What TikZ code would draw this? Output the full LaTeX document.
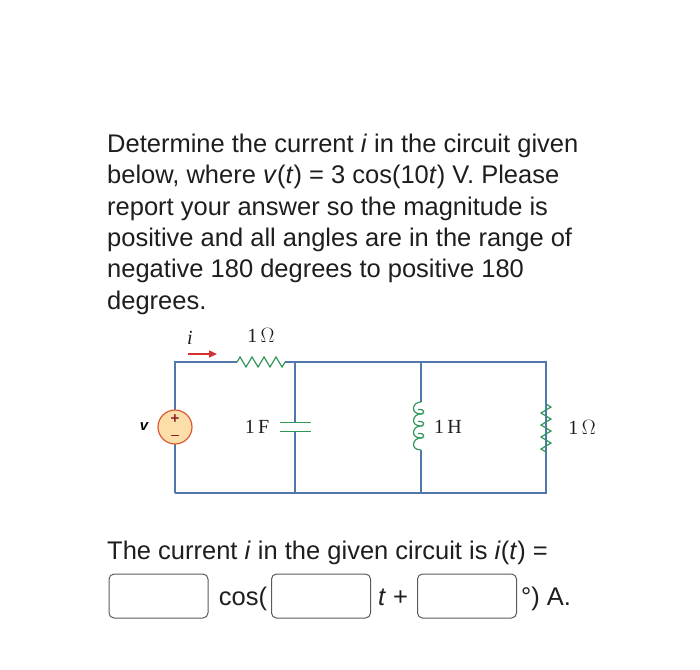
\documentclass[tikz,border=0pt]{standalone}
\usepackage{fontspec}
\setmainfont{Liberation Sans}
\newfontfamily\serif{Liberation Serif}
\usetikzlibrary{decorations.pathmorphing,arrows.meta}
\definecolor{wire}{RGB}{80,120,170}
\definecolor{comp}{RGB}{50,150,90}
\definecolor{arr}{RGB}{210,50,50}
\definecolor{srcfill}{RGB}{252,222,170}
\definecolor{srcedge}{RGB}{220,90,50}
\definecolor{txt}{RGB}{30,30,30}
\definecolor{boxc}{RGB}{90,90,90}
\tikzset{
 line/.style={draw=wire,line width=1.2pt},
 txtline/.style={anchor=base west,inner sep=0,font=\fontsize{25.5}{30}\selectfont,text=txt},
 lab/.style={inner sep=0,font=\serif\fontsize{20}{22}\selectfont,text=txt},
 ansbox/.style={draw=boxc,line width=1pt,rounded corners=5pt,minimum width=99pt,minimum height=44pt,inner sep=0},
 zz/.style={draw=comp,line width=1.2pt,decorate,decoration={zigzag,segment length=12pt,amplitude=5pt}},
}
\begin{document}
\begin{tikzpicture}[x=1pt,y=-1pt]
\useasboundingbox (0,0) rectangle (700,669);
\node[txtline] (l1) at (107,152) {Determine the current \textit{i} in the circuit given};
\node[txtline] (l2) at (107,183) {below, where \textit{v}(\textit{t}) = 3 cos(10\textit{t}) V. Please};
\node[txtline] (l3) at (107,215) {report your answer so the magnitude is};
\node[txtline] (l4) at (107,246) {positive and all angles are in the range of};
\node[txtline] (l5) at (107,277) {negative 180 degrees to positive 180};
\node[txtline] (l6) at (107,309) {degrees.};
% circuit
\coordinate (tl) at (175,362); \coordinate (bl) at (175,493);
\coordinate (tc) at (295,362); \coordinate (bc) at (295,493);
\coordinate (ti) at (421,362); \coordinate (bi) at (421,493);
\coordinate (tr) at (546,362); \coordinate (br) at (546,493);
\coordinate (r1a) at (237,362); \coordinate (r1b) at (285,362);
\draw[line] (bl) -- (br) -- (tr) -- (r1b);
\draw[line] (r1a) -- (tl) -- (bl);
\draw[zz] (r1a) -- (r1b);
\draw[line] (tc) -- (295,422.5); \draw[line] (295,431.5) -- (bc);
\draw[comp,line width=1.6pt] (280,422.5) -- (311,422.5) (280,431.5) -- (311,431.5);
\draw[line] (ti) -- (421,402); \draw[line] (421,450) -- (bi);
\draw[comp,line width=1.2pt] (421,402)
  .. controls (412,402) and (410,414) .. (421,414)
  .. controls (412,414) and (410,426) .. (421,426)
  .. controls (412,426) and (410,438) .. (421,438)
  .. controls (412,438) and (410,450) .. (421,450);
\draw[comp,line width=1.2pt] (421,414) .. controls (425,413) and (425,409) .. (418,409.5);
\draw[comp,line width=1.2pt] (421,426) .. controls (425,425) and (425,421) .. (418,421.5);
\draw[comp,line width=1.2pt] (421,438) .. controls (425,437) and (425,433) .. (418,433.5);
\draw[line] (tr) -- (546,404); \draw[line] (546,452) -- (br);
\draw[zz] (546,404) -- (546,452);
\node[circle,draw=srcedge,fill=srcfill,line width=1.2pt,minimum size=34pt,inner sep=0] (src) at (175,427) {};
\node[text=arr!70!black,font=\bfseries\fontsize{15}{15}\selectfont] at (175,419.5) {+};
\draw[arr!70!black,line width=1.4pt] (171,435.5) -- (179,435.5);
\draw[arr,line width=1.3pt,-{Triangle[length=8pt,width=7pt]}] (188,354) -- (217,354);
\node[lab] (li) at (190,338) {\textit{i}};
\node[lab] (lr1) at (261,335) {1\,$\Omega$};
\node[lab] (lc) at (257,427) {1\,F};
\node[lab] (ll) at (448,427) {1\,H};
\node[lab] (lr2) at (582,427) {1\,$\Omega$};
\node[inner sep=0,font=\bfseries\itshape\fontsize{15}{15}\selectfont] (lv) at (144,427) {v};
% answer
\node[txtline] (q) at (107,559) {The current \textit{i} in the given circuit is \textit{i}(\textit{t}) =};
\node[ansbox] (b1) at (158.5,596) {};
\node[ansbox] (b2) at (321,596) {};
\node[ansbox] (b3) at (467,596) {};
\node[txtline,anchor=base] at (243,605) {cos(};
\node[txtline,anchor=base] at (393,605) {\textit{t} +};
\node[txtline,anchor=base] at (546,605) {°) A.};
\end{tikzpicture}
\end{document}
